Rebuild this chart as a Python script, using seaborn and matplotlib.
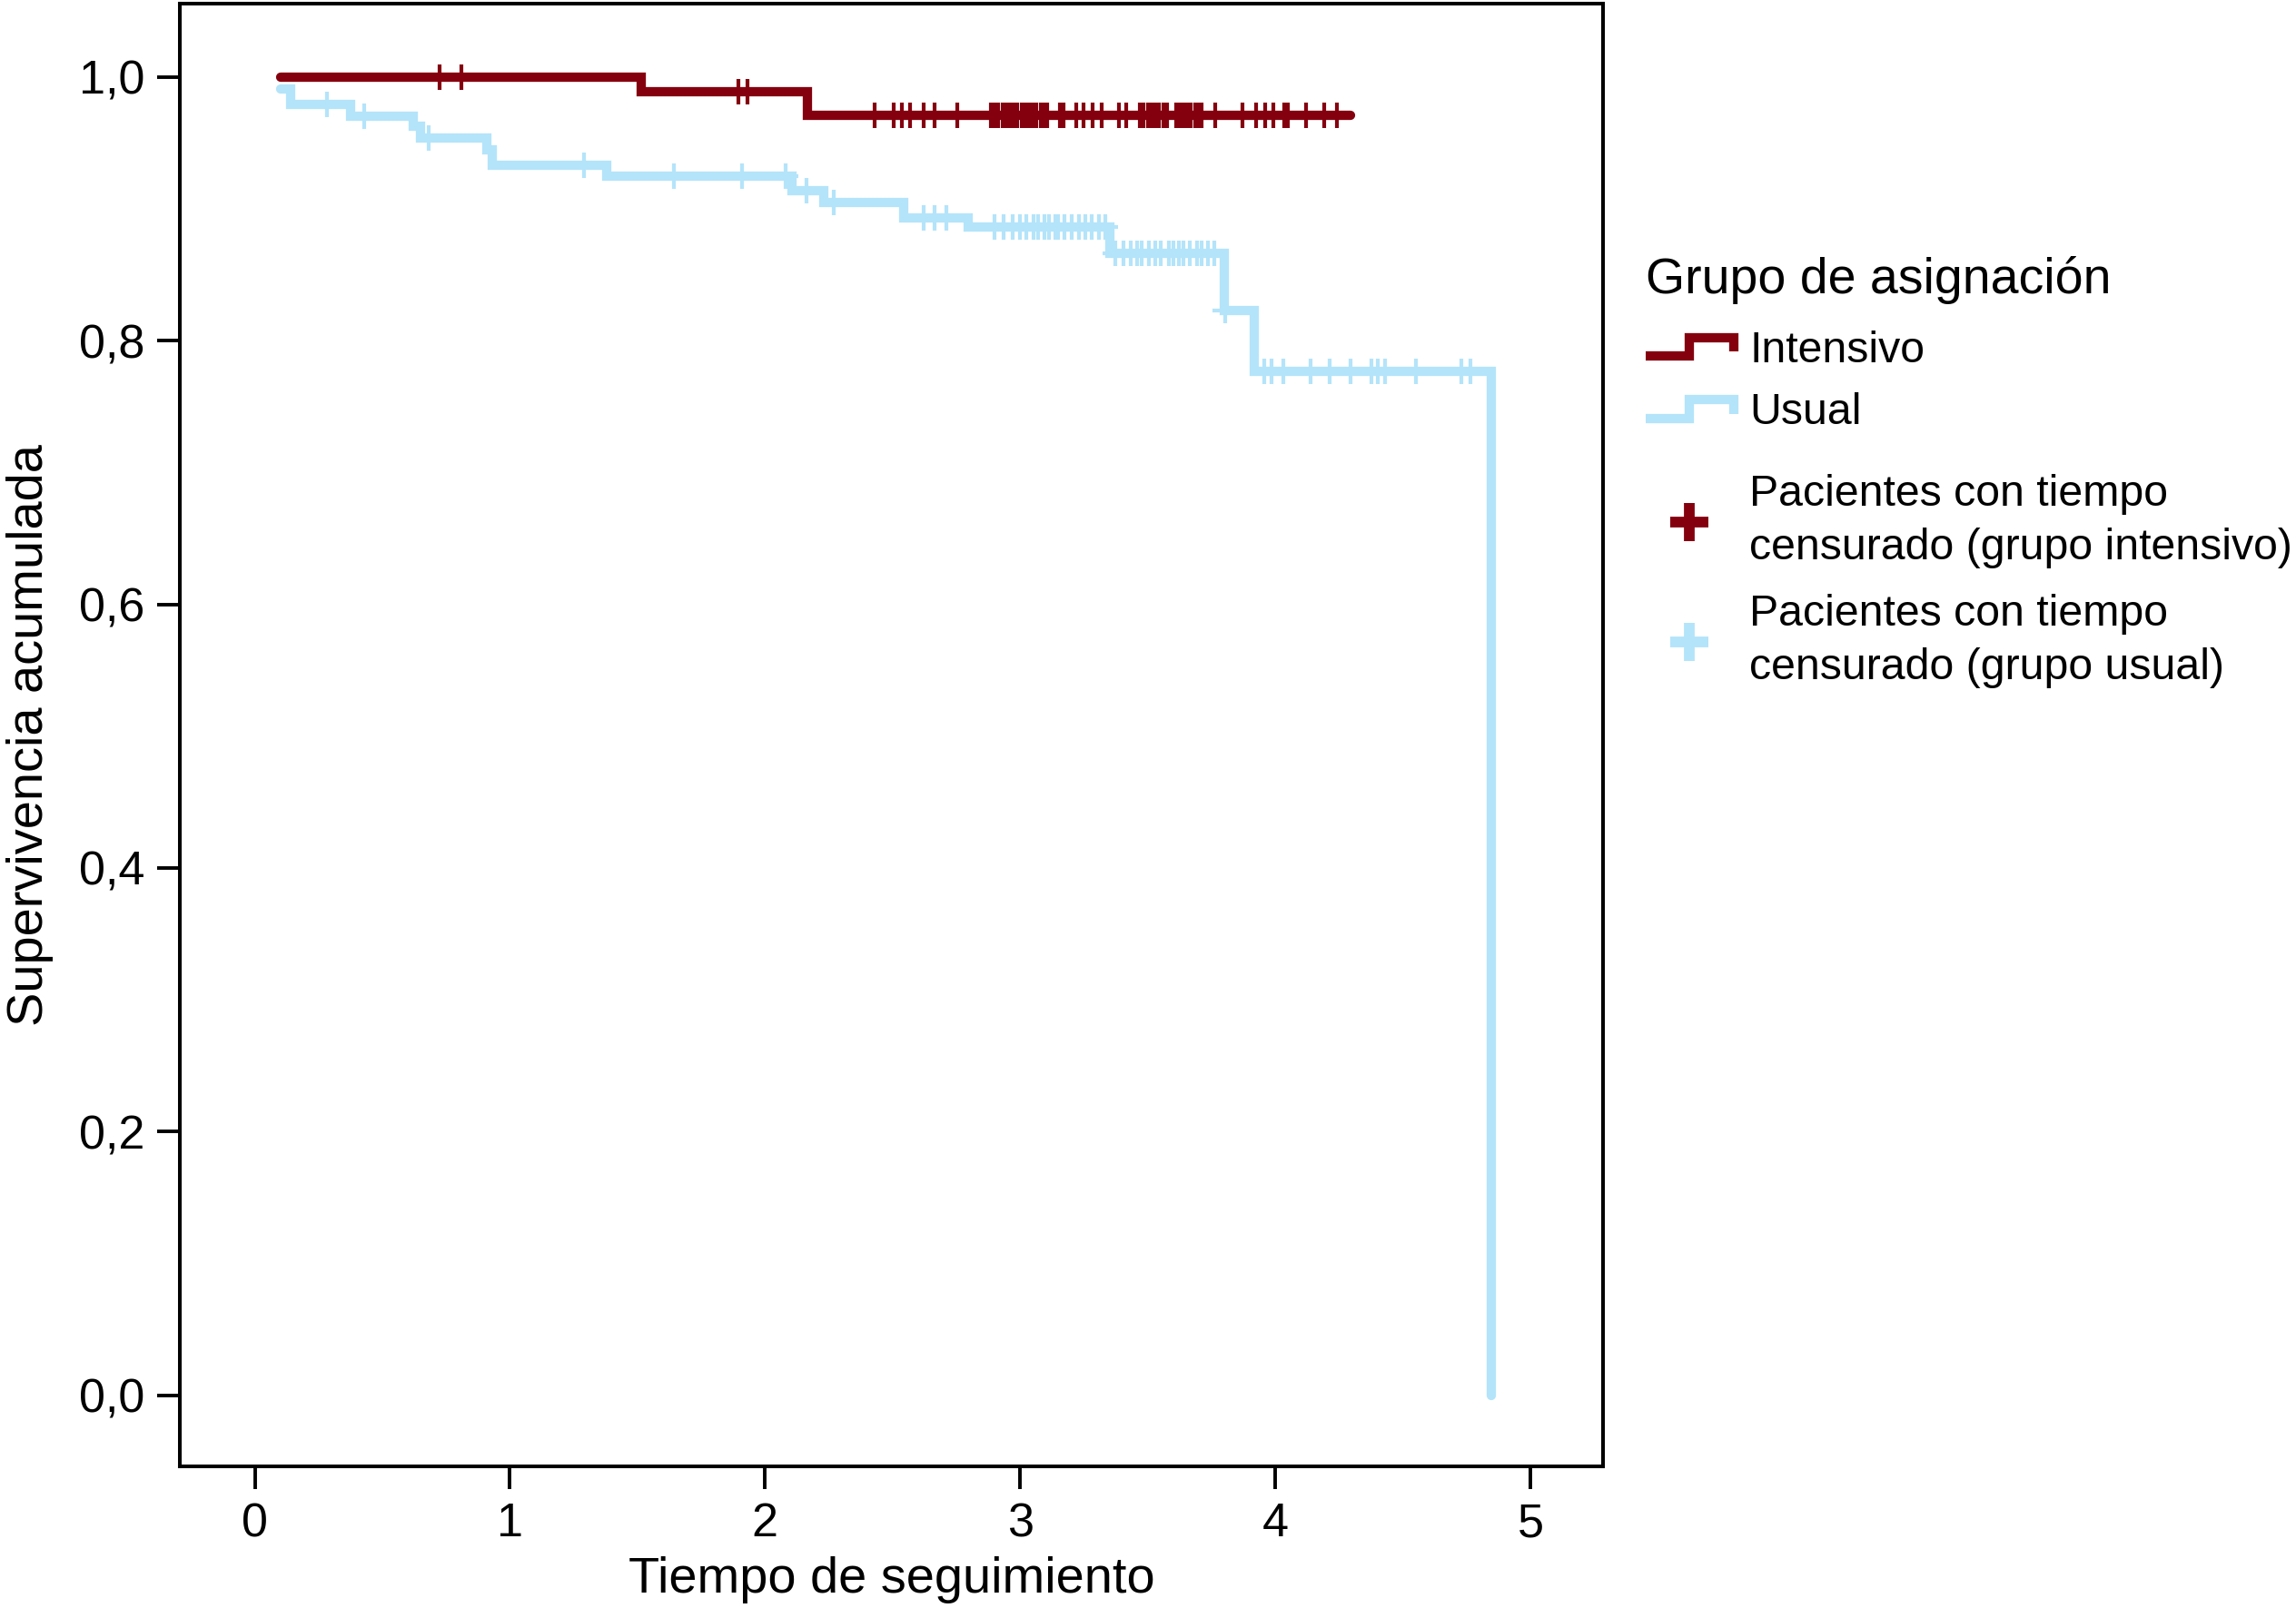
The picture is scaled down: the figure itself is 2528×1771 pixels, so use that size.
import numpy as np
import pandas as pd
import matplotlib
matplotlib.use("Agg")
import matplotlib.pyplot as plt
from matplotlib.lines import Line2D
from matplotlib.legend_handler import HandlerBase
from matplotlib.ticker import FuncFormatter
import seaborn as sns

# Kaplan-Meier steps
int_step_t = [0.10, 1.515, 2.165, 4.294]
int_step_s = [1.000, 0.989, 0.971, 0.971]

usu_step_t = [0.10, 0.14, 0.375, 0.62, 0.65, 0.91, 0.93, 1.38, 2.105, 2.23,
              2.545, 2.796, 3.35, 3.80, 3.918, 4.847]
usu_step_s = [0.991, 0.979, 0.970, 0.963, 0.954, 0.945, 0.933, 0.925, 0.914, 0.905,
              0.893, 0.886, 0.866, 0.823, 0.777, 0.0]

# censored times
int_cens = [0.725, 0.81, 1.896, 1.93, 2.429, 2.506, 2.538, 2.567, 2.623, 2.666,
            2.754, 2.885, 2.90, 2.915, 2.93, 2.945, 2.96, 2.975, 2.99, 3.005,
            3.02, 3.035, 3.05, 3.065, 3.08, 3.095, 3.105, 3.155, 3.17, 3.22,
            3.25, 3.285, 3.321, 3.386, 3.416, 3.47, 3.485, 3.50, 3.515, 3.53,
            3.545, 3.56, 3.575, 3.61, 3.625, 3.64, 3.655, 3.67, 3.685, 3.70,
            3.71, 3.766, 3.873, 3.926, 3.962, 3.991, 4.035, 4.05, 4.122, 4.193,
            4.241]
usu_cens = [0.284, 0.43, 0.68, 1.29, 1.643, 1.91, 2.08, 2.163, 2.27, 2.621,
            2.666, 2.710, 2.900, 2.935, 2.971, 3.0, 3.024, 3.054, 3.072, 3.095,
            3.113, 3.137, 3.149, 3.173, 3.202, 3.232, 3.256, 3.280, 3.309, 3.335,
            3.374, 3.404, 3.434, 3.457, 3.475, 3.504, 3.528, 3.552, 3.582, 3.6,
            3.624, 3.641, 3.665, 3.695, 3.712, 3.736, 3.76, 3.805, 3.958, 3.987,
            4.03, 4.138, 4.213, 4.294, 4.376, 4.403, 4.432, 4.55, 4.729, 4.766]

groups = ["Intensivo", "Usual"]
colors = {"Intensivo": "#85000F", "Usual": "#B4E4FA"}
x_ticks = [0, 1, 2, 3, 4, 5]
y_ticks = [0.0, 0.2, 0.4, 0.6, 0.8, 1.0]


def level_at(step_t, step_s, times):
    idx = np.searchsorted(step_t, times, side="right") - 1
    return np.array(step_s)[idx]


curves = pd.concat([
    pd.DataFrame({"t": int_step_t, "s": int_step_s, "grupo": "Intensivo"}),
    pd.DataFrame({"t": usu_step_t, "s": usu_step_s, "grupo": "Usual"}),
])
cens = pd.concat([
    pd.DataFrame({"t": int_cens, "s": level_at(int_step_t, int_step_s, int_cens), "grupo": "Intensivo"}),
    pd.DataFrame({"t": usu_cens, "s": level_at(usu_step_t, usu_step_s, usu_cens), "grupo": "Usual"}),
])

sns.set_style("ticks")
plt.rcParams["font.family"] = ["Liberation Sans", "DejaVu Sans"]
for k in ["text.color", "axes.labelcolor", "xtick.color", "ytick.color", "axes.edgecolor"]:
    plt.rcParams[k] = "black"

fig = plt.figure(figsize=(25.28, 17.71), dpi=100)
ax = fig.add_axes([0.0783, 0.088, 0.6199, 0.910])

sns.lineplot(data=curves[curves.grupo == "Usual"], x="t", y="s", color=colors["Usual"],
             drawstyle="steps-post", estimator=None, sort=False, linewidth=7.4,
             solid_joinstyle="miter", ax=ax, legend=False)
sns.scatterplot(data=cens[cens.grupo == "Usual"], x="t", y="s", marker="+", s=400,
                linewidth=3, color=colors["Usual"], ax=ax, legend=False, zorder=3)
sns.lineplot(data=curves[curves.grupo == "Intensivo"], x="t", y="s", color=colors["Intensivo"],
             drawstyle="steps-post", estimator=None, sort=False, linewidth=7.4,
             solid_joinstyle="miter", ax=ax, legend=False)
sns.scatterplot(data=cens[cens.grupo == "Intensivo"], x="t", y="s", marker="+", s=400,
                linewidth=3, color=colors["Intensivo"], ax=ax, legend=False, zorder=4)

ax.set_xlim(-0.294, 5.285)
ax.set_ylim(-0.054, 1.056)
ax.set_xticks(x_ticks)
ax.set_yticks(y_ticks)
ax.yaxis.set_major_formatter(FuncFormatter(lambda v, p: f"{v:.1f}".replace(".", ",")))
ax.tick_params(axis="both", length=18, width=2.8, labelsize=37.5, pad=10, color="black")
for sp in ax.spines.values():
    sp.set_linewidth(2.9)
    sp.set_color("black")
ax.set_xlabel("Tiempo de seguimiento", fontsize=40.3, labelpad=8)
ax.set_ylabel("Supervivencia acumulada", fontsize=40.3, labelpad=20)


class StepHandler(HandlerBase):
    def create_artists(self, legend, orig_handle, xdescent, ydescent, width, height,
                       fontsize, trans):
        x0 = -xdescent
        yc = -ydescent + height / 2
        lo, hi = yc - 0.3 * height, yc + 0.3 * height
        xs = [x0, x0 + 0.5 * width, x0 + 0.5 * width, x0 + width, x0 + width]
        ys = [lo, lo, hi, hi, lo + 0.15 * height]
        ln = Line2D(xs, ys, color=orig_handle.get_color(), linewidth=7.4,
                    solid_joinstyle="miter", solid_capstyle="butt", transform=trans)
        return [ln]


h_int = Line2D([], [], color=colors["Intensivo"])
h_usu = Line2D([], [], color=colors["Usual"])
m_int = Line2D([], [], color=colors["Intensivo"], marker="+", linestyle="none",
               markersize=30, markeredgewidth=8.5)
m_usu = Line2D([], [], color=colors["Usual"], marker="+", linestyle="none",
               markersize=30, markeredgewidth=8.5)

common = dict(loc="upper left", frameon=False, borderpad=0, borderaxespad=0,
              fontsize=34.75, alignment="left", handlelength=2.0,
              handletextpad=0.37)

leg1 = fig.legend([h_int, h_usu], groups,
                  handler_map={h_int: StepHandler(), h_usu: StepHandler()},
                  bbox_to_anchor=(0.7168, 1 - 282 / 1771), labelspacing=0.48,
                  title="Grupo de asignación", title_fontsize=40, **common)
leg1._legend_box.sep = 21

leg2 = fig.legend([m_int, m_usu],
                  ["Pacientes con tiempo\ncensurado (grupo intensivo)",
                   "Pacientes con tiempo\ncensurado (grupo usual)"],
                  bbox_to_anchor=(0.7168, 1 - 522 / 1771), labelspacing=0.58,
                  **common)
for t in leg2.get_texts():
    t.set_linespacing(1.4)

fig.savefig("out.png", dpi=100)
